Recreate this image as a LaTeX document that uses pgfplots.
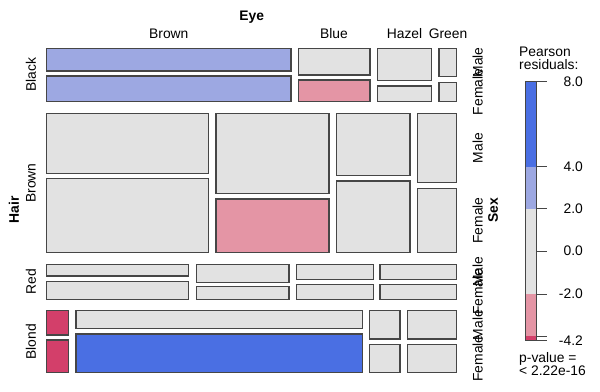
\documentclass[border=0pt]{standalone}
\usepackage{pgfplots}
\pgfplotsset{compat=1.18}
\usepackage{fontspec}
\setmainfont{Liberation Sans}
\definecolor{cgrey}{RGB}{226,226,226}
\definecolor{cblue}{RGB}{74,111,227}
\definecolor{clblue}{RGB}{157,168,226}
\definecolor{cpink}{RGB}{228,149,165}
\definecolor{cred}{RGB}{211,63,106}
\definecolor{bord}{RGB}{70,70,70}
\definecolor{txt}{RGB}{30,30,30}
\newcommand{\lbl}{\fontsize{13.9}{15}\selectfont}
\newcommand{\cell}[5]{\addplot[draw=bord, line width=1.1bp, line join=miter, fill=#5, mark=none] coordinates {(#1,#3) (#2,#3) (#2,#4) (#1,#4)} -- cycle;}
\newcommand{\seg}[3]{\addplot[draw=none, fill=#3, mark=none] coordinates {(525.3,#1) (536.7,#1) (536.7,#2) (525.3,#2)} -- cycle;}
\newcommand{\tick}[1]{\addplot[draw=bord, line width=0.9bp, mark=none] coordinates {(536.7,#1) (546.7,#1)};}
\begin{document}
\begin{tikzpicture}
\begin{axis}[width=600bp,height=391bp,scale only axis,hide axis,
  xmin=0,xmax=600,ymin=0,ymax=391,y dir=reverse,clip=false,
  every node/.append style={text=txt}]
\path (axis cs:0,0) rectangle (axis cs:600,391);
% Black hair
\cell{46.7}{291}{48.3}{71}{clblue}
\cell{46.7}{291}{76}{101.7}{clblue}
\cell{298.3}{370}{48.3}{75}{cgrey}
\cell{298.3}{370}{80}{101.7}{cpink}
\cell{377.7}{431.3}{48.3}{80.3}{cgrey}
\cell{377.7}{431.3}{86}{101.7}{cgrey}
\cell{439}{456.7}{48.3}{76.7}{cgrey}
\cell{439}{456.7}{82.3}{101.7}{cgrey}
% Brown hair
\cell{46.7}{208.3}{113.3}{173.3}{cgrey}
\cell{46.7}{208.3}{178.3}{252.7}{cgrey}
\cell{216}{329}{113.3}{193.3}{cgrey}
\cell{216}{329}{199}{252.7}{cpink}
\cell{336.7}{410}{113.3}{175.7}{cgrey}
\cell{336.7}{410}{181}{252.7}{cgrey}
\cell{417.7}{456.7}{113.3}{182.7}{cgrey}
\cell{417.7}{456.7}{188.3}{252.7}{cgrey}
% Red hair
\cell{46.7}{188.3}{264.3}{276}{cgrey}
\cell{46.7}{188.3}{281.3}{299.3}{cgrey}
\cell{196.7}{289}{264.3}{282.3}{cgrey}
\cell{196.7}{289}{286.7}{299.3}{cgrey}
\cell{296.7}{373.3}{264.3}{279.3}{cgrey}
\cell{296.7}{373.3}{284.3}{299.3}{cgrey}
\cell{380}{456.7}{264.3}{279.3}{cgrey}
\cell{380}{456.7}{284.3}{299.3}{cgrey}
% Blond hair
\cell{46.7}{68.3}{310.7}{335}{cred}
\cell{46.7}{68.3}{340}{372.7}{cred}
\cell{76}{362.7}{310.7}{328.3}{cgrey}
\cell{76}{362.7}{334}{372.7}{cblue}
\cell{369.3}{400}{310.7}{339}{cgrey}
\cell{369.3}{400}{344.3}{372.7}{cgrey}
\cell{407.7}{456.7}{310.7}{339}{cgrey}
\cell{407.7}{456.7}{344.3}{372.7}{cgrey}
% colour bar
\seg{81.7}{166.7}{cblue}
\seg{166.7}{208.5}{clblue}
\seg{208.5}{294}{cgrey}
\seg{294}{336}{cpink}
\seg{336}{340}{cred}
\addplot[draw=bord, line width=0.8bp, line join=miter, mark=none] coordinates {(525.3,81.7) (536.7,81.7) (536.7,340) (525.3,340)} -- cycle;
\tick{81.7}\tick{166.7}\tick{208.5}\tick{251}\tick{294}\tick{336}\tick{340}
% labels
\node[font=\lbl\bfseries, anchor=base] at (axis cs:251.7,21) {Eye};
\node[font=\lbl, anchor=base] at (axis cs:168.8,38) {Brown};
\node[font=\lbl, anchor=base] at (axis cs:334,38) {Blue};
\node[font=\lbl, anchor=base] at (axis cs:404.5,38) {Hazel};
\node[font=\lbl, anchor=base] at (axis cs:448,38) {Green};
\node[font=\lbl\bfseries, rotate=90] at (axis cs:14,210) {Hair};
\node[font=\lbl, rotate=90] at (axis cs:31,75) {Black};
\node[font=\lbl, rotate=90] at (axis cs:31,183) {Brown};
\node[font=\lbl, rotate=90] at (axis cs:31,281.8) {Red};
\node[font=\lbl, rotate=90] at (axis cs:31,341.7) {Blond};
\node[font=\lbl\bfseries, rotate=90] at (axis cs:493,210) {Sex};
\node[font=\lbl, rotate=90] at (axis cs:477.7,62.5) {Male};
\node[font=\lbl, rotate=90] at (axis cs:477.7,92) {Female};
\node[font=\lbl, rotate=90] at (axis cs:477.7,148) {Male};
\node[font=\lbl, rotate=90] at (axis cs:477.7,220.5) {Female};
\node[font=\lbl, rotate=90] at (axis cs:477.7,271.8) {Male};
\node[font=\lbl, rotate=90] at (axis cs:477.7,291.8) {Female};
\node[font=\lbl, rotate=90] at (axis cs:477.7,325) {Male};
\node[font=\lbl, rotate=90] at (axis cs:477.7,358.5) {Female};
\node[font=\lbl, anchor=west, inner sep=0pt] at (axis cs:519,52) {Pearson};
\node[font=\lbl, anchor=west, inner sep=0pt] at (axis cs:519,65) {residuals:};
\node[font=\lbl, anchor=east, inner sep=0pt] at (axis cs:583,82) {8.0};
\node[font=\lbl, anchor=east, inner sep=0pt] at (axis cs:583,166.7) {4.0};
\node[font=\lbl, anchor=east, inner sep=0pt] at (axis cs:583,208.5) {2.0};
\node[font=\lbl, anchor=east, inner sep=0pt] at (axis cs:583,251) {0.0};
\node[font=\lbl, anchor=east, inner sep=0pt] at (axis cs:583,294) {-2.0};
\node[font=\lbl, anchor=east, inner sep=0pt] at (axis cs:583,341) {-4.2};
\node[font=\lbl, anchor=west, inner sep=0pt] at (axis cs:519,359) {p-value =};
\node[font=\lbl, anchor=west, inner sep=0pt] at (axis cs:519,371) {< 2.22e-16};
\end{axis}
\end{tikzpicture}
\end{document}
